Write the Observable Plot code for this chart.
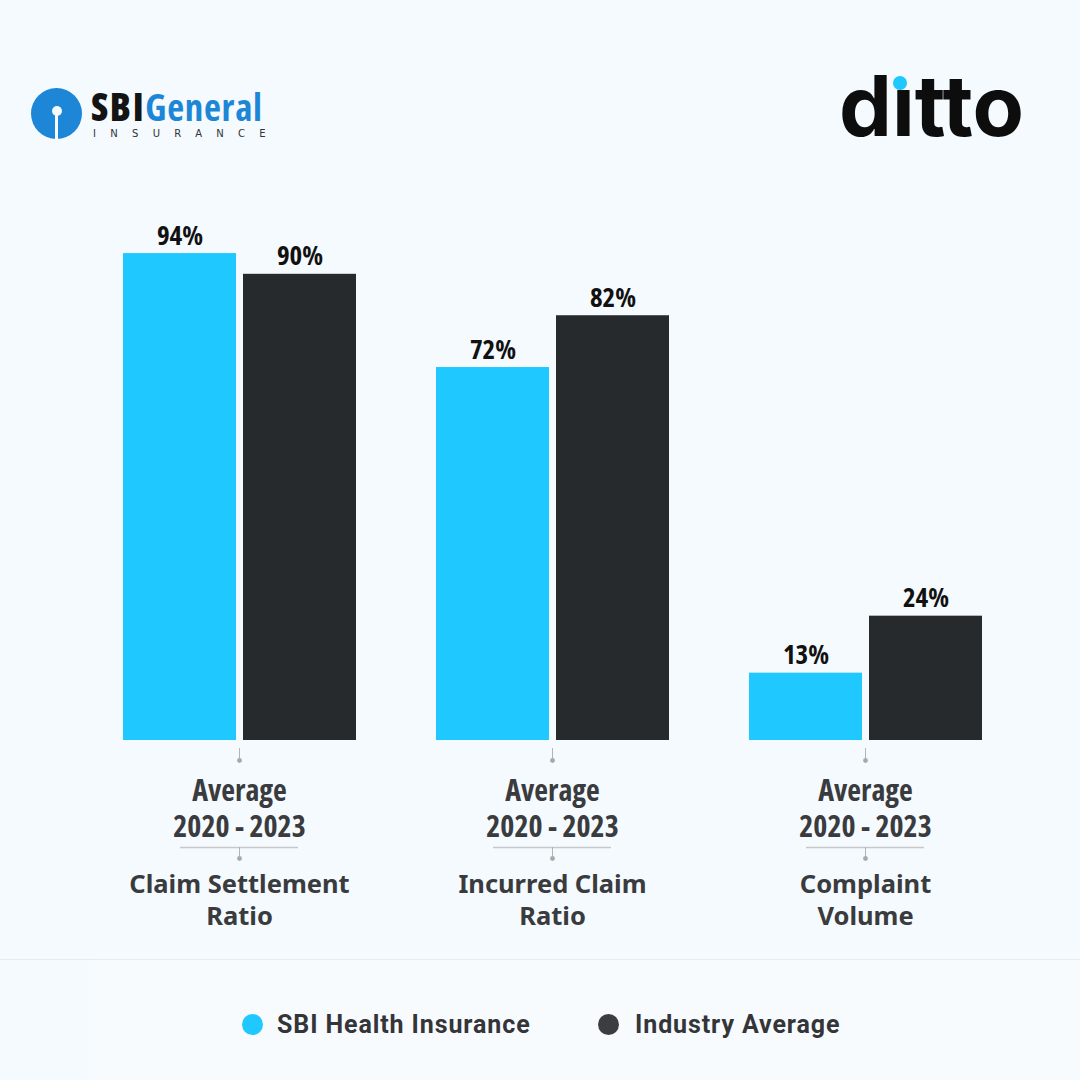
<!DOCTYPE html>
<html>
<head>
<meta charset="utf-8">
<script src="https://cdn.jsdelivr.net/npm/d3@7"></script>
<script src="https://cdn.jsdelivr.net/npm/@observablehq/plot@0.6"></script>
<style>
  html, body { margin: 0; padding: 0; }
  body { width: 1080px; height: 1080px; overflow: hidden; }
  #page { position: relative; width: 1080px; height: 1080px; background: #f4fafd; overflow: hidden; }
  #bottomPanel { position: absolute; left: 95px; top: 954px; width: 985px; height: 126px; background: #f8fbfe; }
  #bottomLine { position: absolute; left: 0; top: 959px; width: 1080px; height: 1px; background: rgba(200,210,216,0.35); }
  #chart { position: absolute; left: 0; top: 0; }
  #chart g[font-family*="Open Sans"] { font-stretch: 75%; }
  #sbiLogo { position: absolute; left: 31px; top: 88px; }
  #sbiMark { position: absolute; left: 0; top: 0; width: 51px; height: 51px; border-radius: 50%; background: #1e86d6; }
  #sbiHole { position: absolute; left: 20.5px; top: 18px; width: 10px; height: 10px; border-radius: 50%; background: #f4fafd; }
  #sbiSlot { position: absolute; left: 24px; top: 26px; width: 3px; height: 25px; background: #f4fafd; }
  #sbiWord { position: absolute; left: 60px; top: 3px; font-family: "Open Sans", sans-serif; font-weight: 800; font-size: 38px; font-stretch: 75%; white-space: nowrap; line-height: 30px; height: 30px; }
  #sbiWord .k { color: #141414; letter-spacing: 1.6px; }
  #sbiWord .b { color: #1e86d6; font-weight: 700; font-size: 37px; letter-spacing: 0.7px; }
  #sbiIns { position: absolute; left: 62px; top: 40px; font-family: "DejaVu Sans", sans-serif; font-size: 10px; line-height: 11px; letter-spacing: 14.3px; color: #333; white-space: nowrap; }
  #ditto { position: absolute; left: 839px; top: 64px; font-family: Inter, sans-serif; font-weight: 700; font-size: 84px; color: #0d0d0d; line-height: 1; white-space: nowrap; }
  #dittoDot { position: absolute; left: 893px; top: 76px; width: 14px; height: 14px; border-radius: 50%; background: #1fc8ff; }
  #legend { position: absolute; left: 0; top: 1010px; width: 1080px; height: 30px; font-family: Roboto, sans-serif; font-weight: 700; font-size: 25px; letter-spacing: 0.9px; color: #333538; }
  .li { position: absolute; top: 0; white-space: nowrap; line-height: 30px; }
  .sw { position: absolute; width: 21px; height: 21px; border-radius: 50%; top: 4px; }
</style>
</head>
<body>
<div id="page">
  <div id="bottomPanel"></div>
  <div id="bottomLine"></div>
  <div id="sbiLogo">
    <div id="sbiMark"><div id="sbiHole"></div><div id="sbiSlot"></div></div>
    <div id="sbiWord"><span class="k">SBI</span><span class="b">General</span></div>
    <div id="sbiIns">INSURANCE</div>
  </div>
  <div id="ditto">d&#305;tto</div>
  <div id="dittoDot"></div>
  <div id="chart"></div>
  <div id="legend"></div>
</div>
<script>
// ---- data ----
const categories = ["Claim Settlement Ratio", "Incurred Claim Ratio", "Complaint Volume"];
const categoryLabels = ["Claim Settlement\nRatio", "Incurred Claim\nRatio", "Complaint\nVolume"];
const periodLabel = "Average\n2020 - 2023";
const series = ["SBI Health Insurance", "Industry Average"];
const sbiValues = [94, 72, 13];
const industryValues = [90, 82, 24];
const seriesColors = ["#1fc8ff", "#272a2d"];

const data = [];
categories.forEach((c, i) => {
  data.push({category: c, series: series[0], value: sbiValues[i]});
  data.push({category: c, series: series[1], value: industryValues[i]});
});

const condensed = "'Open Sans', sans-serif";
const labelFont = "'Noto Sans', sans-serif";

const chart = Plot.plot({
  width: 1080,
  height: 960,
  marginTop: 0,
  marginBottom: 220,
  marginLeft: 121,
  marginRight: 97,
  style: {background: "transparent", overflow: "visible"},
  fx: {domain: categories, paddingInner: 0.2536, paddingOuter: 0, label: null},
  x: {domain: series, paddingInner: 0.06, paddingOuter: 0, axis: null},
  y: {domain: [0, 100], range: [740, 222], axis: null},
  color: {domain: series, range: seriesColors},
  marks: [
    Plot.barY(data, {fx: "category", x: "series", y: "value", fill: "series"}),
    Plot.text(data, {
      fx: "category", x: "series", y: "value",
      text: d => d.value + "%",
      lineAnchor: "bottom", dy: -9,
      fontFamily: condensed, fontWeight: "bold", fontSize: 27, fill: "#111"
    }),
    // first axis: period labels
    Plot.axisFx({
      anchor: "bottom", label: null, tickSize: 10, dy: 8, tickPadding: 17,
      tickFormat: () => periodLabel,
      stroke: "#b3b3b3", fill: "#3a3b3e",
      fontFamily: condensed, fontWeight: "bold", fontSize: 30, lineHeight: 1.2
    }),
    Plot.dot(categories, {fx: d => d, frameAnchor: "bottom", dy: 20, r: 2.4, fill: "#a9a9a9"}),
    // separator line
    Plot.ruleY([0], {dy: 107, insetLeft: 58, insetRight: 58, stroke: "#c6c8ca", strokeWidth: 1.3}),
    // second axis: metric names
    Plot.axisFx({
      anchor: "bottom", label: null, tickSize: 9, dy: 107, tickPadding: 14,
      tickFormat: d => categoryLabels[categories.indexOf(d)],
      stroke: "#b3b3b3", fill: "#3a3b3e",
      fontFamily: labelFont, fontWeight: "bold", fontSize: 25.5, lineHeight: 1.25
    }),
    Plot.dot(categories, {fx: d => d, frameAnchor: "bottom", dy: 118, r: 2.4, fill: "#a9a9a9"})
  ]
});
document.getElementById("chart").appendChild(chart);

// ---- legend ----
const legend = document.getElementById("legend");
const legendX = [242, 598];
const legendTextX = [277, 635];
series.forEach((s, i) => {
  const sw = document.createElement("div");
  sw.className = "sw";
  sw.style.left = legendX[i] + "px";
  sw.style.background = i === 0 ? seriesColors[0] : "#3b3d40";
  legend.appendChild(sw);
  const t = document.createElement("div");
  t.className = "li";
  t.style.left = legendTextX[i] + "px";
  t.textContent = s;
  legend.appendChild(t);
});
</script>
</body>
</html>
